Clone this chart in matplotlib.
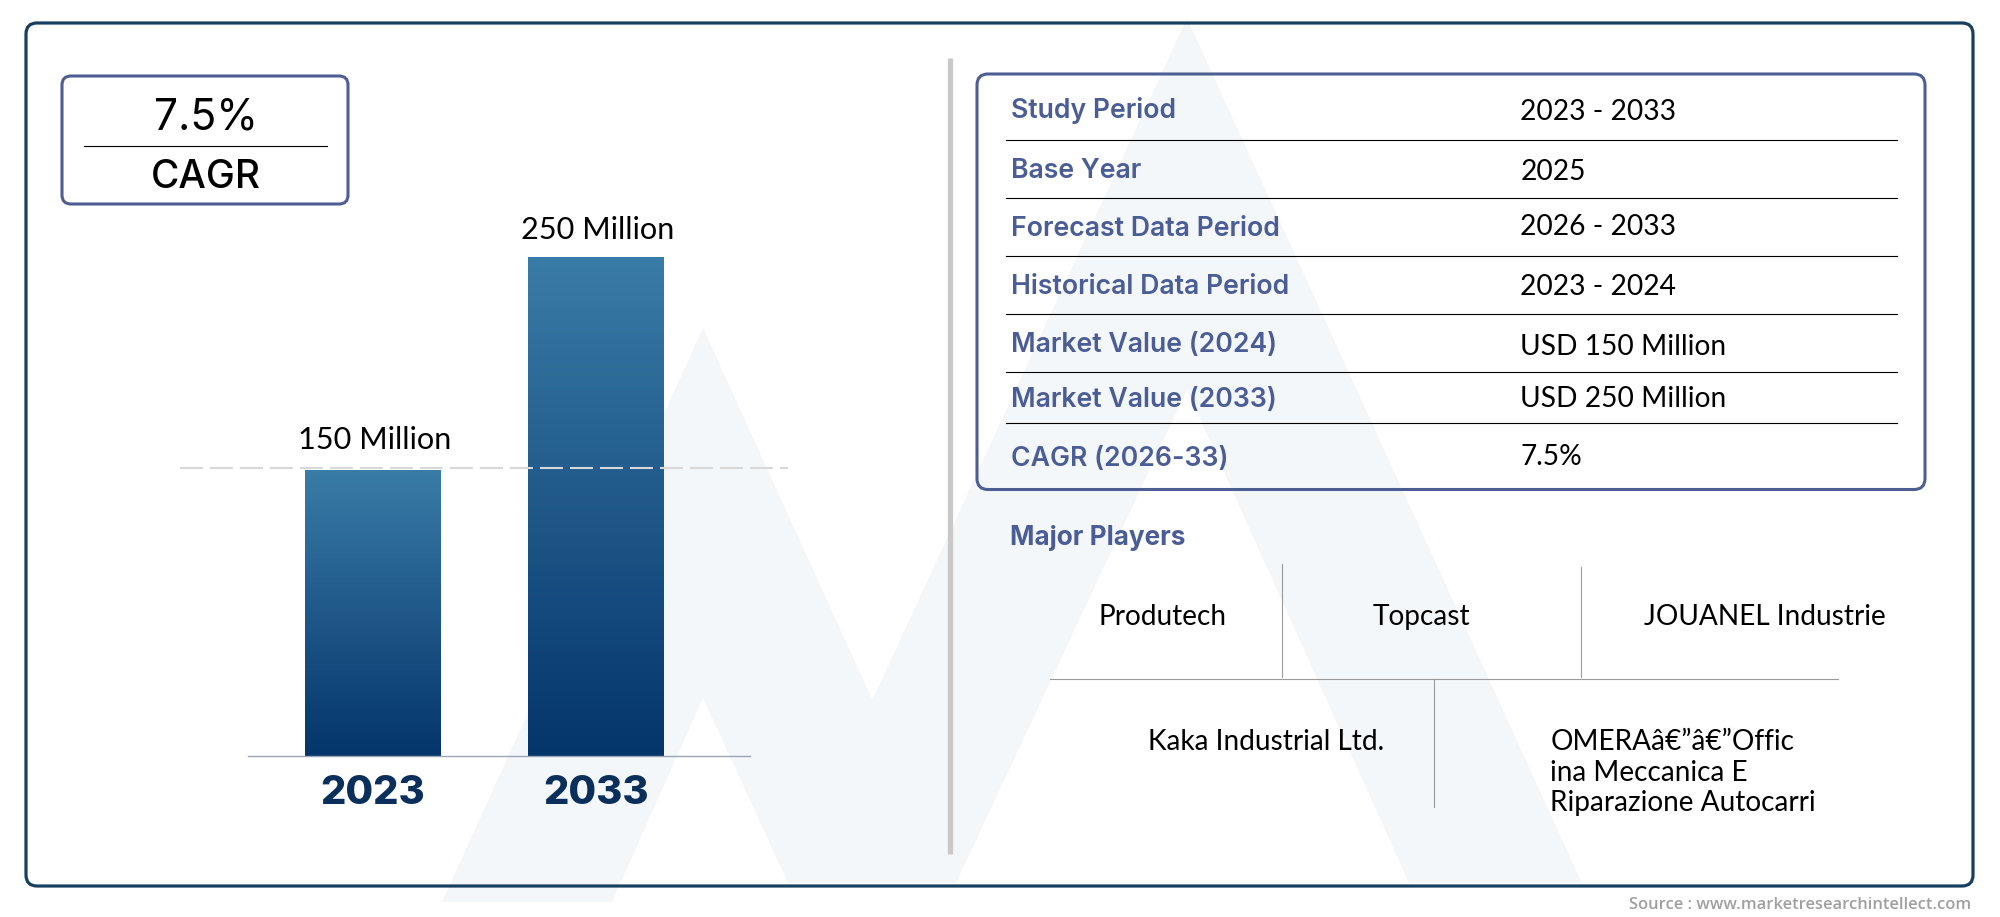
import numpy as np
import matplotlib
matplotlib.use("Agg")
import matplotlib.pyplot as plt
from matplotlib.patches import FancyBboxPatch, Polygon
from matplotlib.colors import LinearSegmentedColormap

# ---- data ----
years = ["2023", "2033"]
market_values = [150, 250]
value_suffix = " Million"
cagr_value = "7.5%"
cagr_label = "CAGR"
table_labels = ["Study Period", "Base Year", "Forecast Data Period", "Historical Data Period",
                "Market Value (2024)", "Market Value (2033)", "CAGR (2026-33)"]
table_values = ["2023 - 2033", "2025", "2026 - 2033", "2023 - 2024",
                "USD 150 Million", "USD 250 Million", "7.5%"]
players_title = "Major Players"
players_row1 = ["Produtech", "Topcast", "JOUANEL Industrie"]
players_row2 = ["Kaka Industrial Ltd."]
players_multi = ["OMERAâ€”â€”Offic", "ina Meccanica E", "Riparazione Autocarri"]
source_text = "Source : www.marketresearchintellect.com"

# ---- style ----
NAVY = "#173f5f"
BOX = "#4d5f92"
LABEL = "#4b5d97"
WM = "#f4f7fa"
TICK = "#0b2f5b"
SANS_BOLD = "Inter"
BODY = "Lato"

fig = plt.figure(figsize=(2000 / 100, 917 / 100), dpi=100, facecolor="white")
bg = fig.add_axes([0, 0, 1, 1], zorder=0)
bg.set_xlim(0, 2000)
bg.set_ylim(917, 0)
bg.axis("off")


def fit_size(text, width_px, **kw):
    t = fig.text(0, 0, text, fontsize=20, **kw)
    w = t.get_window_extent(fig.canvas.get_renderer()).width
    t.remove()
    return 20 * width_px / w


# watermark
wm_polys = [
    [(703, 328), (442, 902), (612, 902), (703, 698), (788, 883), (956, 883)],
    [(1187, 18), (788, 883), (956, 883), (1187, 390), (1409, 883), (1582, 883)],
]
for p in wm_polys:
    bg.add_patch(Polygon(p, closed=True, fc=WM, ec="none", zorder=1))

# outer frame, divider
bg.add_patch(FancyBboxPatch((26, 23), 1947, 863, boxstyle="round,pad=0,rounding_size=11",
                            fc="none", ec=NAVY, lw=2.3, zorder=2))
bg.plot([950, 950], [58, 854], color="#c9c9c9", lw=3.8, solid_capstyle="butt", zorder=2)

# CAGR box
bg.add_patch(FancyBboxPatch((62, 76), 286, 128, boxstyle="round,pad=0,rounding_size=9",
                            fc="white", ec=BOX, lw=2.2, zorder=2))
bg.plot([84, 327], [146, 146], color="black", lw=0.8, zorder=3)
fs = fit_size(cagr_value, 104, family="Inter")
bg.text(205.5, 129, cagr_value, fontsize=fs, family="Inter", ha="center", va="baseline", color="black", zorder=4)
fs = fit_size(cagr_label, 110, family="Inter", weight=500)
bg.text(205.5, 188, cagr_label, fontsize=fs, family="Inter", weight=500, ha="center", va="baseline", color="black", zorder=4)

# table
bg.add_patch(FancyBboxPatch((977, 74), 948, 415.5, boxstyle="round,pad=0,rounding_size=11",
                            fc="none", ec=BOX, lw=2.2, zorder=2))
for y in [140, 198, 256, 314, 372, 423]:
    bg.plot([1006, 1897], [y, y], color="black", lw=0.8, zorder=3)
label_fs = fit_size("Historical Data Period", 279, family=SANS_BOLD, weight=600)
value_fs = fit_size("USD 250 Million", 205, family=BODY)
label_base = [118, 178, 236, 294, 352, 407, 466]
value_base = [120, 180, 235, 295, 355, 407, 465]
for lab, val, yl, yv in zip(table_labels, table_values, label_base, value_base):
    bg.text(1011, yl, lab, fontsize=label_fs, family=SANS_BOLD, weight=600, color=LABEL,
            ha="left", va="baseline", zorder=4)
    bg.text(1520.5, yv, val, fontsize=value_fs, family=BODY, color="black",
            ha="left", va="baseline", zorder=4)

# players
fs = fit_size(players_title, 176, family=SANS_BOLD, weight=700)
bg.text(1010, 545, players_title, fontsize=fs, family=SANS_BOLD, weight=700, color=LABEL,
        ha="left", va="baseline", zorder=4)
GL = "#9a9a9a"
for seg in [([1282, 1282], [564, 677]), ([1581, 1581], [567, 677]),
            ([1050, 1838], [678.5, 678.5]), ([1433.5, 1433.5], [679, 807])]:
    bg.plot(seg[0], seg[1], color=GL, lw=0.8, zorder=3)
pfs = fit_size(players_multi[2], 266.6, family=BODY)
for name, x in zip(players_row1, [1162.5, 1421, 1765]):
    bg.text(x, 625, name, fontsize=pfs, family=BODY, ha="center", va="baseline", color="black", zorder=4)
for name, x in zip(players_row2, [1266]):
    bg.text(x, 750, name, fontsize=pfs, family=BODY, ha="center", va="baseline", color="black", zorder=4)
for name, y in zip(players_multi, [750, 781, 811]):
    bg.text(1550.5, y, name, fontsize=pfs, family=BODY, ha="left", va="baseline", color="black", zorder=4)

# source
fs = fit_size(source_text, 340, family="Open Sans", weight=600)
bg.text(1971, 909, source_text, fontsize=fs, family="Open Sans", weight=600, color="#a0a0a0",
        ha="right", va="baseline", zorder=4)

# ---- bar chart ----
W, H = 2000, 917
ax_l, ax_r, ax_t, ax_b = 180, 788, 200, 756
ax = fig.add_axes([ax_l / W, 1 - ax_b / H, (ax_r - ax_l) / W, (ax_b - ax_t) / H], zorder=1)
ax.patch.set_alpha(0)
x = np.arange(len(years))
bar_w = 136 / 223
xlim = ((ax_l - 373) / 223, (ax_r - 373) / 223)
ylim = (15.7, 276.7)
bars = ax.bar(x, market_values, width=bar_w, color="#1b5a8f", zorder=2)
cmap = LinearSegmentedColormap.from_list("barfade", ["#3a7ca8", "#04356b"])
grad = np.linspace(0, 1, 256).reshape(-1, 1)
for b, lift in zip(bars, [15, 13]):
    im = ax.imshow(grad, cmap=cmap, aspect="auto", zorder=2.5,
                   extent=(b.get_x(), b.get_x() + b.get_width(), ylim[0], b.get_height()))
    im.set_clip_path(b)
    ax.annotate(f"{b.get_height():.0f}{value_suffix}", (b.get_x() + b.get_width() / 2, b.get_height()),
                xytext=(1.5, lift), textcoords="offset points", ha="center", va="baseline",
                fontsize=value_fs * 1.09, family=BODY, color="black", zorder=4)
ax.set_xlim(*xlim)
ax.set_ylim(*ylim)
ax.axhline(150.7, color="#d8d8d8", lw=1.5, linestyle=(0, (11, 3.4)), zorder=3)
for s in ["top", "left", "right"]:
    ax.spines[s].set_visible(False)
ax.spines["bottom"].set_bounds((248 - 373) / 223, (750 - 373) / 223)
ax.spines["bottom"].set_color("#9aa5b5")
ax.spines["bottom"].set_linewidth(1.0)
ax.set_yticks([])
ax.set_xticks(x)
tick_fs = fit_size("2023", 105, family=SANS_BOLD, weight=800)
ax.set_xticklabels(years, fontsize=tick_fs, family=SANS_BOLD, weight=800, color=TICK)
ax.tick_params(axis="x", length=0, pad=14)

fig.savefig("out.png", dpi=100, facecolor="white")
